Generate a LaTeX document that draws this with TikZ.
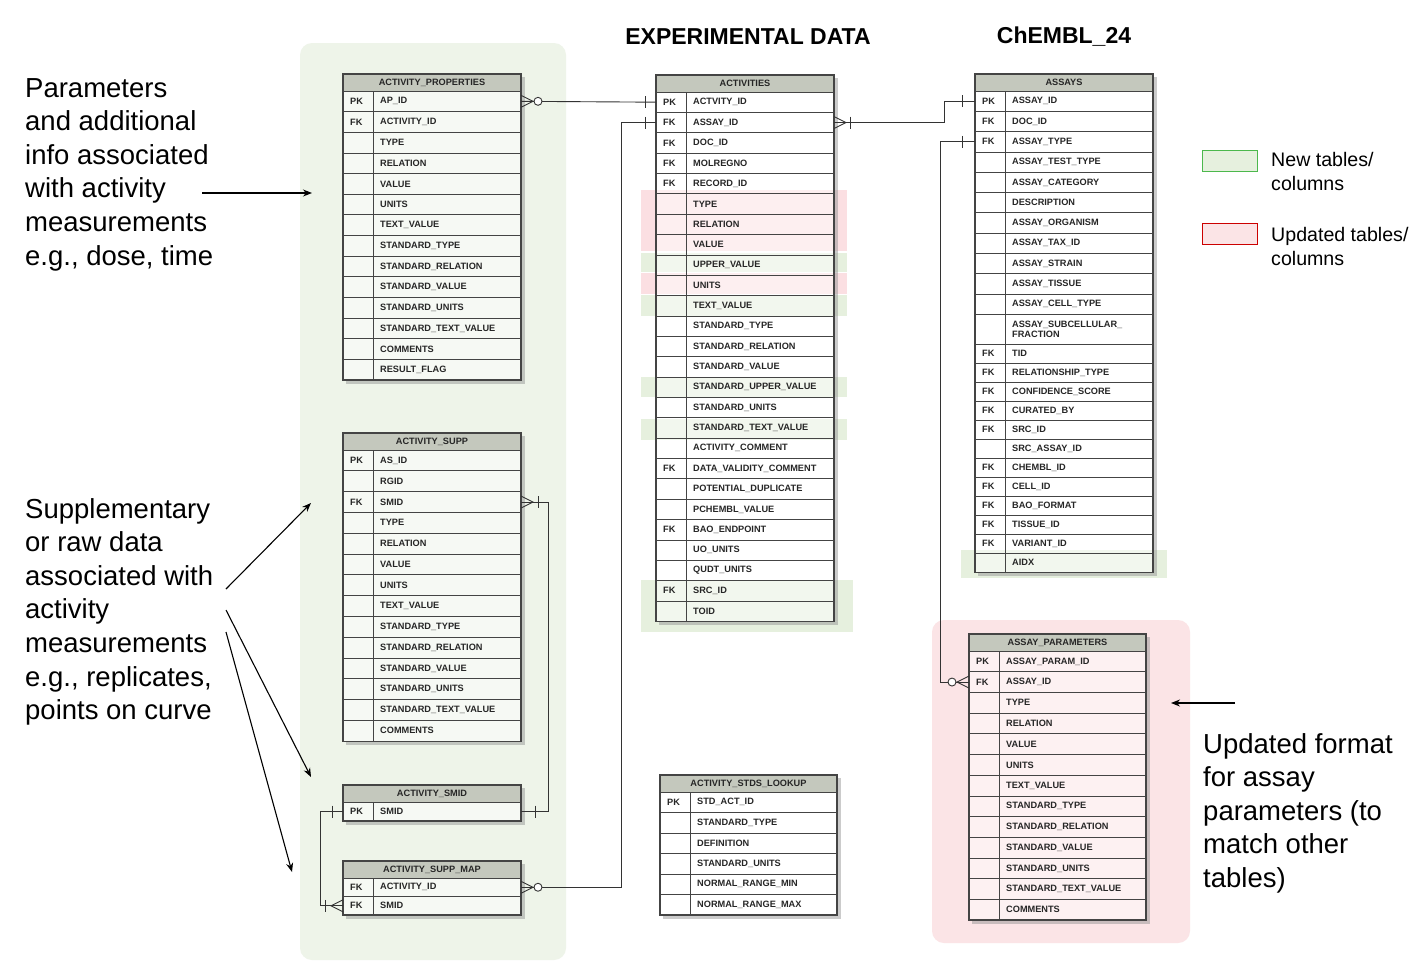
\documentclass[tikz,border=0pt]{standalone}
\usepackage{fontspec}
\setmainfont{Liberation Sans}
\definecolor{pgreen}{HTML}{EEF4E9}
\definecolor{pred}{HTML}{FBE4E6}
\definecolor{hgreen}{HTML}{E6F0DE}
\definecolor{hred}{HTML}{FBDFE2}
\definecolor{hdr}{HTML}{C4C8BD}
\definecolor{tline}{HTML}{444444}
\usetikzlibrary{arrows.meta}
\tikzset{
 conn/.style={draw=black!80, line width=0.9pt},
 rowbox/.style={draw=tline, line width=0.7pt, fill=white, fill opacity=0.5, inner sep=0pt, outer sep=0pt, anchor=north west},
 cell/.style={font=\fontsize{9.2}{10}\selectfont\bfseries, inner sep=0pt, anchor=west, align=left, text=black!85},
 big/.style={font=\fontsize{27.5}{33.6}\selectfont, align=left, anchor=north west, inner sep=0pt},
 leg/.style={font=\fontsize{19.6}{24}\selectfont, align=left, anchor=north west, inner sep=0pt},
 ttl/.style={font=\fontsize{23}{26}\selectfont\bfseries, inner sep=0pt},
 arr/.style={-{Stealth[length=9pt,width=7pt]}, line width=1.1pt}
}
% #1 id, #2 x, #3 ytop, #4 width, #5 title, #6 rows key/name/h
\newcommand\erd[6]{%
 \xdef\ery{#3+17}%
 \foreach \k/\n/\h in {#6}{\pgfmathparse{\ery+\h}\xdef\ery{\pgfmathresult}}%
 \fill[black!45, opacity=0.45] (#2+#4,#3+3) rectangle (#2+#4+4,\ery+4);
 \fill[black!45, opacity=0.45] (#2+3,\ery) rectangle (#2+#4,\ery+4);
 \node[rowbox, fill=hdr, fill opacity=1, minimum width=#4pt, minimum height=17pt] (#1-0) at (#2,#3) {};
 \node[cell] at (#2+#4/2,#3+8.5) [anchor=center] {#5};
 \xdef\ery{#3+17}%
 \foreach[count=\i] \k/\n/\h in {#6}{%
  \node[rowbox, minimum width=#4pt, minimum height=\h pt] (#1-\i) at (#2,\ery) {};
  \node[cell] at (#2+7,\ery+\h/2) {\k};
  \node[cell] at (#2+37,\ery+\h/2) {\n};
  \pgfmathparse{\ery+\h}\xdef\ery{\pgfmathresult}}%
 \draw[tline, line width=0.7pt] (#2+30,#3+17) -- (#2+30,\ery);
 \draw[tline, line width=1.3pt] (#2,#3) rectangle (#2+#4,\ery);
}
\newcommand\crowE[1]{\draw[conn] (#1) ++(0,-6) -- ++(12,6) -- ++(-12,6);}
\newcommand\crowW[1]{\draw[conn] (#1) ++(0,-6) -- ++(-12,6) -- ++(12,6);}
\newcommand\ocirc[2]{\draw[conn, fill=white] (#1) ++(#2,0) circle (4pt);}
\newcommand\obar[2]{\draw[conn] (#1) ++(#2,-6) -- ++(0,12);}
\begin{document}
\begin{tikzpicture}[x=1pt,y=-1pt]
\useasboundingbox (0,0) rectangle (1422,972);
\fill[white] (0,0) rectangle (1422,972);
% panels
\fill[pgreen, rounded corners=12pt] (300,43) rectangle (566,960);
\fill[pred, rounded corners=12pt] (932,620) rectangle (1190,943);
% highlights
\fill[hred] (641,190) rectangle (847,251);
\fill[hgreen] (641,253) rectangle (847,272);
\fill[hred] (641,273) rectangle (847,294);
\fill[hgreen] (641,295) rectangle (847,316);
\fill[hgreen] (641,377) rectangle (847,397);
\fill[hgreen] (641,419) rectangle (847,440);
\fill[hgreen] (641,580) rectangle (853,632);
\fill[hgreen] (961,550) rectangle (1167,578);
% titles
\node[ttl] (t1) at (748,37) {EXPERIMENTAL DATA};
\node[ttl] (t2) at (1064,37) {ChEMBL\_24};
% tables
\erd{ap}{343}{74}{178}{ACTIVITY\_PROPERTIES}{PK/AP\_ID/20.64, FK/ACTIVITY\_ID/20.64, /TYPE/20.64, /RELATION/20.64, /VALUE/20.64, /UNITS/20.64, /TEXT\_VALUE/20.64, /STANDARD\_TYPE/20.64, /STANDARD\_RELATION/20.64, /STANDARD\_VALUE/20.64, /STANDARD\_UNITS/20.64, /STANDARD\_TEXT\_VALUE/20.64, /COMMENTS/20.64, /RESULT\_FLAG/20.64}
\erd{sup}{343}{433}{178}{ACTIVITY\_SUPP}{PK/AS\_ID/20.8, /RGID/20.8, FK/SMID/20.8, /TYPE/20.8, /RELATION/20.8, /VALUE/20.8, /UNITS/20.8, /TEXT\_VALUE/20.8, /STANDARD\_TYPE/20.8, /STANDARD\_RELATION/20.8, /STANDARD\_VALUE/20.8, /STANDARD\_UNITS/20.8, /STANDARD\_TEXT\_VALUE/20.8, /COMMENTS/20.8}
\erd{smid}{343}{785}{178}{ACTIVITY\_SMID}{PK/SMID/19}
\erd{map}{343}{861}{178}{ACTIVITY\_SUPP\_MAP}{FK/ACTIVITY\_ID/18.5, FK/SMID/18.5}
\erd{act}{656}{75}{178}{ACTIVITIES}{PK/ACTVITY\_ID/20.36, FK/ASSAY\_ID/20.36, FK/DOC\_ID/20.36, FK/MOLREGNO/20.36, FK/RECORD\_ID/20.36, /TYPE/20.36, /RELATION/20.36, /VALUE/20.36, /UPPER\_VALUE/20.36, /UNITS/20.36, /TEXT\_VALUE/20.36, /STANDARD\_TYPE/20.36, /STANDARD\_RELATION/20.36, /STANDARD\_VALUE/20.36, /STANDARD\_UPPER\_VALUE/20.36, /STANDARD\_UNITS/20.36, /STANDARD\_TEXT\_VALUE/20.36, /ACTIVITY\_COMMENT/20.36, FK/DATA\_VALIDITY\_COMMENT/20.36, /POTENTIAL\_DUPLICATE/20.36, /PCHEMBL\_VALUE/20.36, FK/BAO\_ENDPOINT/20.36, /UO\_UNITS/20.36, /QUDT\_UNITS/20.36, FK/SRC\_ID/20.36, /TOID/20.36}
\erd{lk}{660}{775}{177}{ACTIVITY\_STDS\_LOOKUP}{PK/STD\_ACT\_ID/20.5, /STANDARD\_TYPE/20.5, /DEFINITION/20.5, /STANDARD\_UNITS/20.5, /NORMAL\_RANGE\_MIN/20.5, /NORMAL\_RANGE\_MAX/20.5}
\erd{as}{975}{74}{178}{ASSAYS}{PK/ASSAY\_ID/20.3, FK/DOC\_ID/20.3, FK/ASSAY\_TYPE/20.3, /ASSAY\_TEST\_TYPE/20.3, /ASSAY\_CATEGORY/20.3, /DESCRIPTION/20.3, /ASSAY\_ORGANISM/20.3, /ASSAY\_TAX\_ID/20.3, /ASSAY\_STRAIN/20.3, /ASSAY\_TISSUE/20.3, /ASSAY\_CELL\_TYPE/20.3, /{ASSAY\_SUBCELLULAR\_\\FRACTION}/30, FK/TID/19, FK/RELATIONSHIP\_TYPE/19, FK/CONFIDENCE\_SCORE/19, FK/CURATED\_BY/19, FK/SRC\_ID/19, /SRC\_ASSAY\_ID/19, FK/CHEMBL\_ID/19, FK/CELL\_ID/19, FK/BAO\_FORMAT/19, FK/TISSUE\_ID/19, FK/VARIANT\_ID/19, /AIDX/19}
\erd{ap2}{969}{634}{177}{ASSAY\_PARAMETERS}{PK/ASSAY\_PARAM\_ID/20.7, FK/ASSAY\_ID/20.7, /TYPE/20.7, /RELATION/20.7, /VALUE/20.7, /UNITS/20.7, /TEXT\_VALUE/20.7, /STANDARD\_TYPE/20.7, /STANDARD\_RELATION/20.7, /STANDARD\_VALUE/20.7, /STANDARD\_UNITS/20.7, /STANDARD\_TEXT\_VALUE/20.7, /COMMENTS/20.7}
% connectors
\draw[conn] (ap-1.east) -- (act-1.west); \crowE{ap-1.east} \ocirc{ap-1.east}{17} \obar{act-1.west}{-11}
\draw[conn] (act-2.west) -- ++(-35,0) |- (map-1.east); \obar{act-2.west}{-11} \crowE{map-1.east} \ocirc{map-1.east}{17}
\draw[conn] (act-2.east) -- ++(110,0) |- (as-1.west); \crowE{act-2.east} \obar{act-2.east}{16} \obar{as-1.west}{-13}
\draw[conn] (as-3.west) -- ++(-35,0) |- (ap2-2.west); \obar{as-3.west}{-13} \crowW{ap2-2.west} \ocirc{ap2-2.west}{-17}
\draw[conn] (sup-3.east) -- ++(27,0) |- (smid-1.east); \crowE{sup-3.east} \obar{sup-3.east}{17} \obar{smid-1.east}{14}
\draw[conn] (smid-1.west) -- ++(-23,0) |- (map-2.west); \obar{smid-1.west}{-11} \crowW{map-2.west} \obar{map-2.west}{-18}
% annotations
\node[big] (n1) at (25,78) {Parameters\\and additional\\info associated\\with activity\\measurements\\e.g., dose, time};
\node[big] (n2) at (25,498) {Supplementary\\or raw data\\associated with\\activity\\measurements\\e.g., replicates,\\points on curve};
\node[big] (n3) at (1203,733) {Updated format\\for assay\\parameters (to\\match other\\tables)};
\coordinate (a1s) at (202,193); \coordinate (a1e) at (312,193);
\coordinate (a2s) at (226,589); \coordinate (a2e) at (311,503);
\coordinate (a3s) at (226,610); \coordinate (a3e) at (311,777);
\coordinate (a4s) at (226,632); \coordinate (a4e) at (292,872);
\coordinate (a5s) at (1235,703); \coordinate (a5e) at (1171,703);
\draw[arr] (a1s) -- (a1e); \draw[arr] (a2s) -- (a2e); \draw[arr] (a3s) -- (a3e); \draw[arr] (a4s) -- (a4e); \draw[arr] (a5s) -- (a5e);
% legend
\draw[draw=green!60!black!70, fill=hgreen, line width=1pt] (1202,150) rectangle (1257,171);
\draw[draw=red!80!black, fill=pred, line width=1pt] (1202,223) rectangle (1257,244);
\node[leg] (l1) at (1271,152) {New tables/\\columns};
\node[leg] (l2) at (1271,227) {Updated tables/\\columns};
\end{tikzpicture}
\end{document}
